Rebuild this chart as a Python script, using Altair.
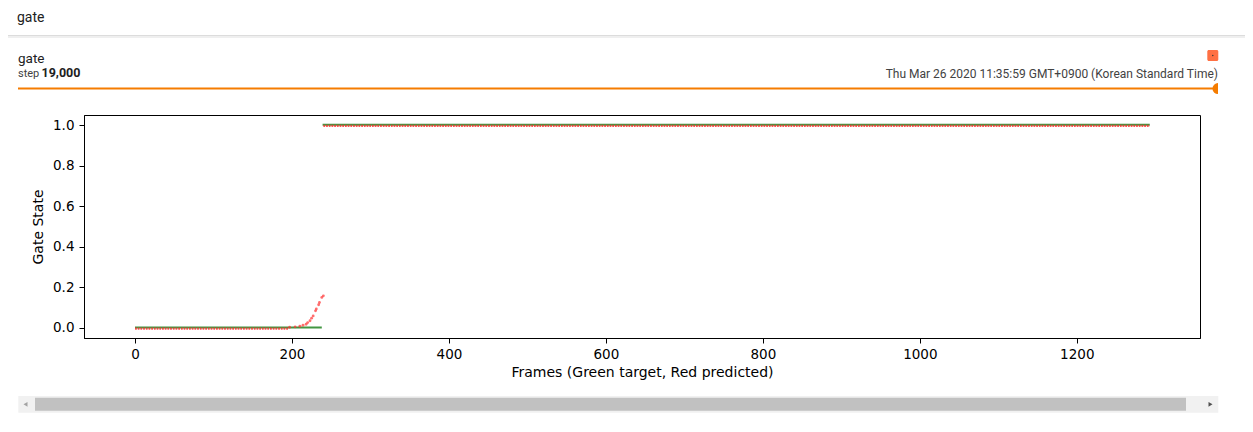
import math
import pandas as pd
import altair as alt

# Gate values
target_frames = [0, 238, 239, 1293]
target_gate = [0.0, 0.0, 1.0, 1.0]
target_seg = ['low', 'low', 'high', 'high']

pred_frames = [0, 195, 240, 1293]
pred_gate = [0.0, 0.0, 1.0, 1.0]
pred_seg = ['low', 'low', 'high', 'high']

# predicted gate where it starts rising before the target switches
rise_frames = [197, 204, 210, 214, 218, 220, 223, 225, 227, 230, 231, 234, 235, 238, 240]
rise_gate = [0.003, 0.005, 0.008, 0.013, 0.018, 0.026, 0.035, 0.048, 0.059,
             0.084, 0.093, 0.114, 0.125, 0.150, 0.158]

x_ticks = [0, 200, 400, 600, 800, 1000, 1200]
y_ticks = [0.0, 0.2, 0.4, 0.6, 0.8, 1.0]

# page chrome text
header_title = 'gate'
card_title = 'gate'
step_label = 'step'
step_value = '19,000'
wall_time = 'Thu Mar 26 2020 11:35:59 GMT+0900 (Korean Standard Time)'

# plot area sits at page (84, 115)
OX, OY = 84, 115


def px(v):
    return v - OX


def py(v):
    return v - OY


one = pd.DataFrame({'k': [0]})

target = pd.DataFrame({'frame': target_frames, 'gate': target_gate, 'seg': target_seg})
pred = pd.DataFrame({'frame': pred_frames, 'gate': pred_gate, 'seg': pred_seg})
rise = pd.DataFrame({'frame': rise_frames, 'gate': rise_gate})

x_enc = alt.X('frame:Q', title='Frames (Green target, Red predicted)',
              scale=alt.Scale(domain=[-65, 1357], nice=False, zero=False),
              axis=alt.Axis(values=x_ticks, format='d', grid=False, tickSize=5,
                            labelPadding=4, titlePadding=5))
y_enc = alt.Y('gate:Q', title='Gate State',
              scale=alt.Scale(domain=[-0.05, 1.05], nice=False, zero=False),
              axis=alt.Axis(values=y_ticks, format='.1f', grid=False, tickSize=5,
                            labelPadding=5, titlePadding=7))

target_line = alt.Chart(target).mark_line(color='#2e8b2e', strokeWidth=2, opacity=0.9,
                                          yOffset=-0.4).encode(
    x=x_enc, y=y_enc, detail='seg:N'
)

pred_line = alt.Chart(pred).mark_line(color='#ff2a2a', strokeWidth=2.2, opacity=0.8,
                                      strokeDash=[1.8, 0.9], yOffset=0.8).encode(
    x='frame:Q', y='gate:Q', detail='seg:N'
)

pred_rise = alt.Chart(rise).mark_circle(color='#ff3030', size=8, opacity=0.7).encode(
    x='frame:Q', y='gate:Q'
)


def label(text, x, y, size, color, weight='normal', align='left'):
    return alt.Chart(one).mark_text(text=text, font='Roboto', fontSize=size, color=color,
                                    fontWeight=weight, align=align, baseline='alphabetic').encode(
        x=alt.value(x), y=alt.value(y)
    )


def box(x1, x2, y1, y2, color, radius=0):
    return alt.Chart(one).mark_rect(color=color, cornerRadius=radius).encode(
        x=alt.value(x1), x2=alt.value(x2), y=alt.value(y1), y2=alt.value(y2)
    )


chrome = [
    box(px(8), px(1245), py(35), py(36), '#dcdcdc'),
    box(px(8), px(1245), py(36), py(38), '#efefef'),
    label(header_title, px(17), py(22), 14, '#212121'),
    label(card_title, px(18), py(63), 13.5, '#212121'),
    label(step_label, px(18), py(77.3), 11, '#424242'),
    label(step_value, px(41.5), py(77.3), 12.5, '#212121', weight='bold'),
    label(wall_time, px(1218), py(77.5), 12, '#424242', align='right'),
    box(px(1207.3), px(1218.3), py(50), py(61), '#ff7043', radius=1.5),
    alt.Chart(one).mark_circle(color='#333333', size=2, opacity=1).encode(
        x=alt.value(px(1212.8)), y=alt.value(py(55.5))
    ),
    alt.Chart(one).mark_rule(color='#f57c00', strokeWidth=2).encode(
        x=alt.value(px(18)), x2=alt.value(px(1218)), y=alt.value(py(88.5))
    ),
    alt.Chart(one).mark_arc(color='#f57c00', radius=5.5, theta=math.pi, theta2=2 * math.pi).encode(
        x=alt.value(px(1218)), y=alt.value(py(88.6))
    ),
    # horizontal scrollbar below the image
    box(px(18.3), px(1218.3), py(396), py(412.7), '#f1f1f1'),
    box(px(35), px(1186), py(397.7), py(410.7), '#c1c1c1'),
    alt.Chart(one).mark_point(shape='triangle-left', filled=True, size=22, color='#a3a3a3', opacity=1).encode(
        x=alt.value(px(25.5)), y=alt.value(py(404.3))
    ),
    alt.Chart(one).mark_point(shape='triangle-right', filled=True, size=22, color='#505050', opacity=1).encode(
        x=alt.value(px(1210.5)), y=alt.value(py(404.3))
    ),
]

chart = alt.layer(target_line, pred_line, pred_rise, *chrome).properties(
    width=1200 - OX,
    height=338 - OY,
    autosize=alt.AutoSizeParams(type='none'),
    padding={'left': 76, 'top': 107, 'right': 45, 'bottom': 78}
).configure_view(
    stroke='black',
    strokeWidth=1
).configure_axis(
    labelFont='DejaVu Sans',
    labelFontSize=13.5,
    labelColor='black',
    titleFont='DejaVu Sans',
    titleFontSize=14,
    titleFontWeight='normal',
    titleColor='black',
    domainColor='black',
    tickColor='black'
)

chart.save('out.html', embed_options={'renderer': 'svg', 'actions': False})
